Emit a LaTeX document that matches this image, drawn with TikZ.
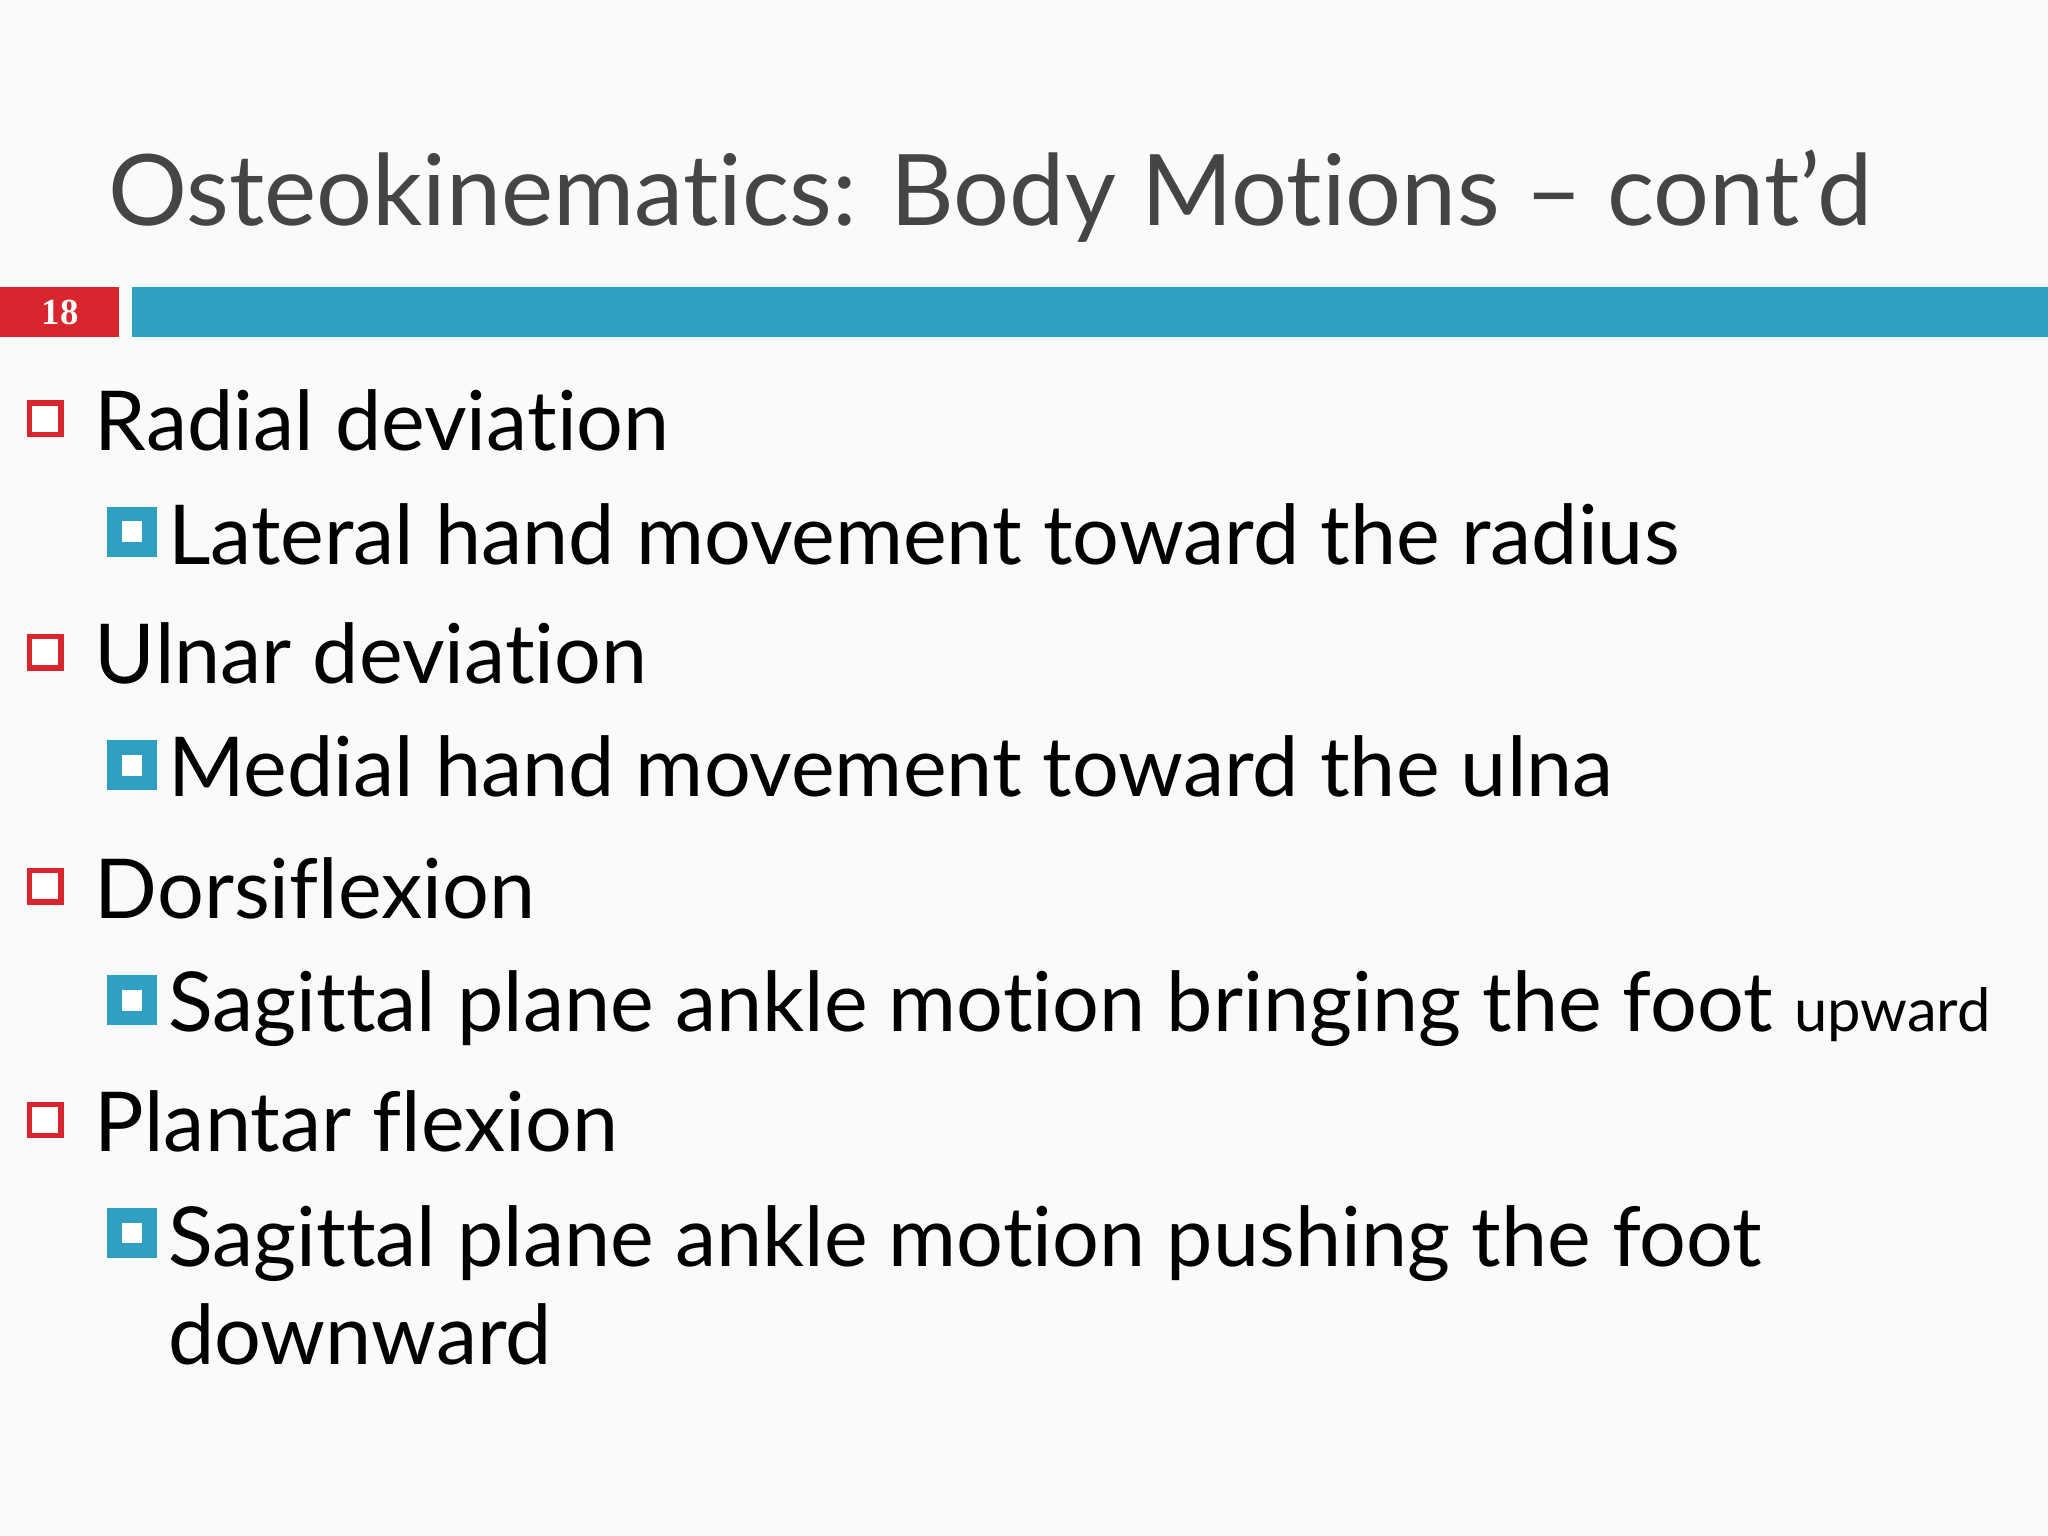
\documentclass[tikz,border=0pt]{standalone}
\usepackage{fontspec}
\setmainfont[Ligatures=CommonOff]{Lato}
\newfontfamily\numfont{Liberation Serif}
\definecolor{bg}{HTML}{FAFAFA}
\definecolor{ttl}{HTML}{454545}
\definecolor{barblue}{HTML}{2FA0C2}
\definecolor{barred}{HTML}{D9262E}
\tikzset{
 lone/.style={anchor=base west,inner sep=0pt,font=\fontsize{18}{22}\selectfont},
 rbul/.style={draw=barred,line width=1.2pt,fill=white,minimum size=0.24cm,inner sep=0pt},
 bbul/.style={draw=barblue,line width=3.2pt,fill=white,minimum size=0.27cm,inner sep=0pt},
}
\begin{document}
\begin{tikzpicture}[x=0.01cm,y=-0.01cm]
\fill[bg] (0,0) rectangle (1568,1176);
\useasboundingbox (0,0) rectangle (1568,1176);
\node[anchor=base west,inner sep=0pt,text=ttl,font=\fontsize{21.5}{26}\selectfont] (title) at (82,173) {Osteokinematics: Body Motions -- cont’d};
\fill[barred] (0,220) rectangle (91,258);
\fill[barblue] (101,220) rectangle (1568,258);
\node[text=white,font=\numfont\bfseries\fontsize{8}{9}\selectfont] (num) at (46,239) {18};
\node[rbul] (b1) at (34.5,320.5) {};
\node[lone] (t1) at (72,345) {Radial deviation};
\node[bbul] (c1) at (101,407) {};
\node[lone] (s1) at (128,432) {Lateral hand movement toward the radius};
\node[rbul] (b2) at (34.5,499.5) {};
\node[lone] (t2) at (72,523) {Ulnar deviation};
\node[bbul] (c2) at (101,586) {};
\node[lone] (s2) at (128,610) {Medial hand movement toward the ulna};
\node[rbul] (b3) at (34.5,678.5) {};
\node[lone] (t3) at (72,703) {Dorsiflexion};
\node[bbul] (c3) at (101,766) {};
\node[lone] (s3) at (128,790) {Sagittal plane ankle motion bringing the foot {\fontsize{13}{15}\selectfont upward}};
\node[rbul] (b4) at (34.5,857.5) {};
\node[lone] (t4) at (72,882) {Plantar flexion};
\node[bbul] (c4) at (101,944) {};
\node[lone] (s4) at (128,970) {Sagittal plane ankle motion pushing the foot};
\node[lone] (s5) at (128,1045) {downward};
\end{tikzpicture}
\end{document}
